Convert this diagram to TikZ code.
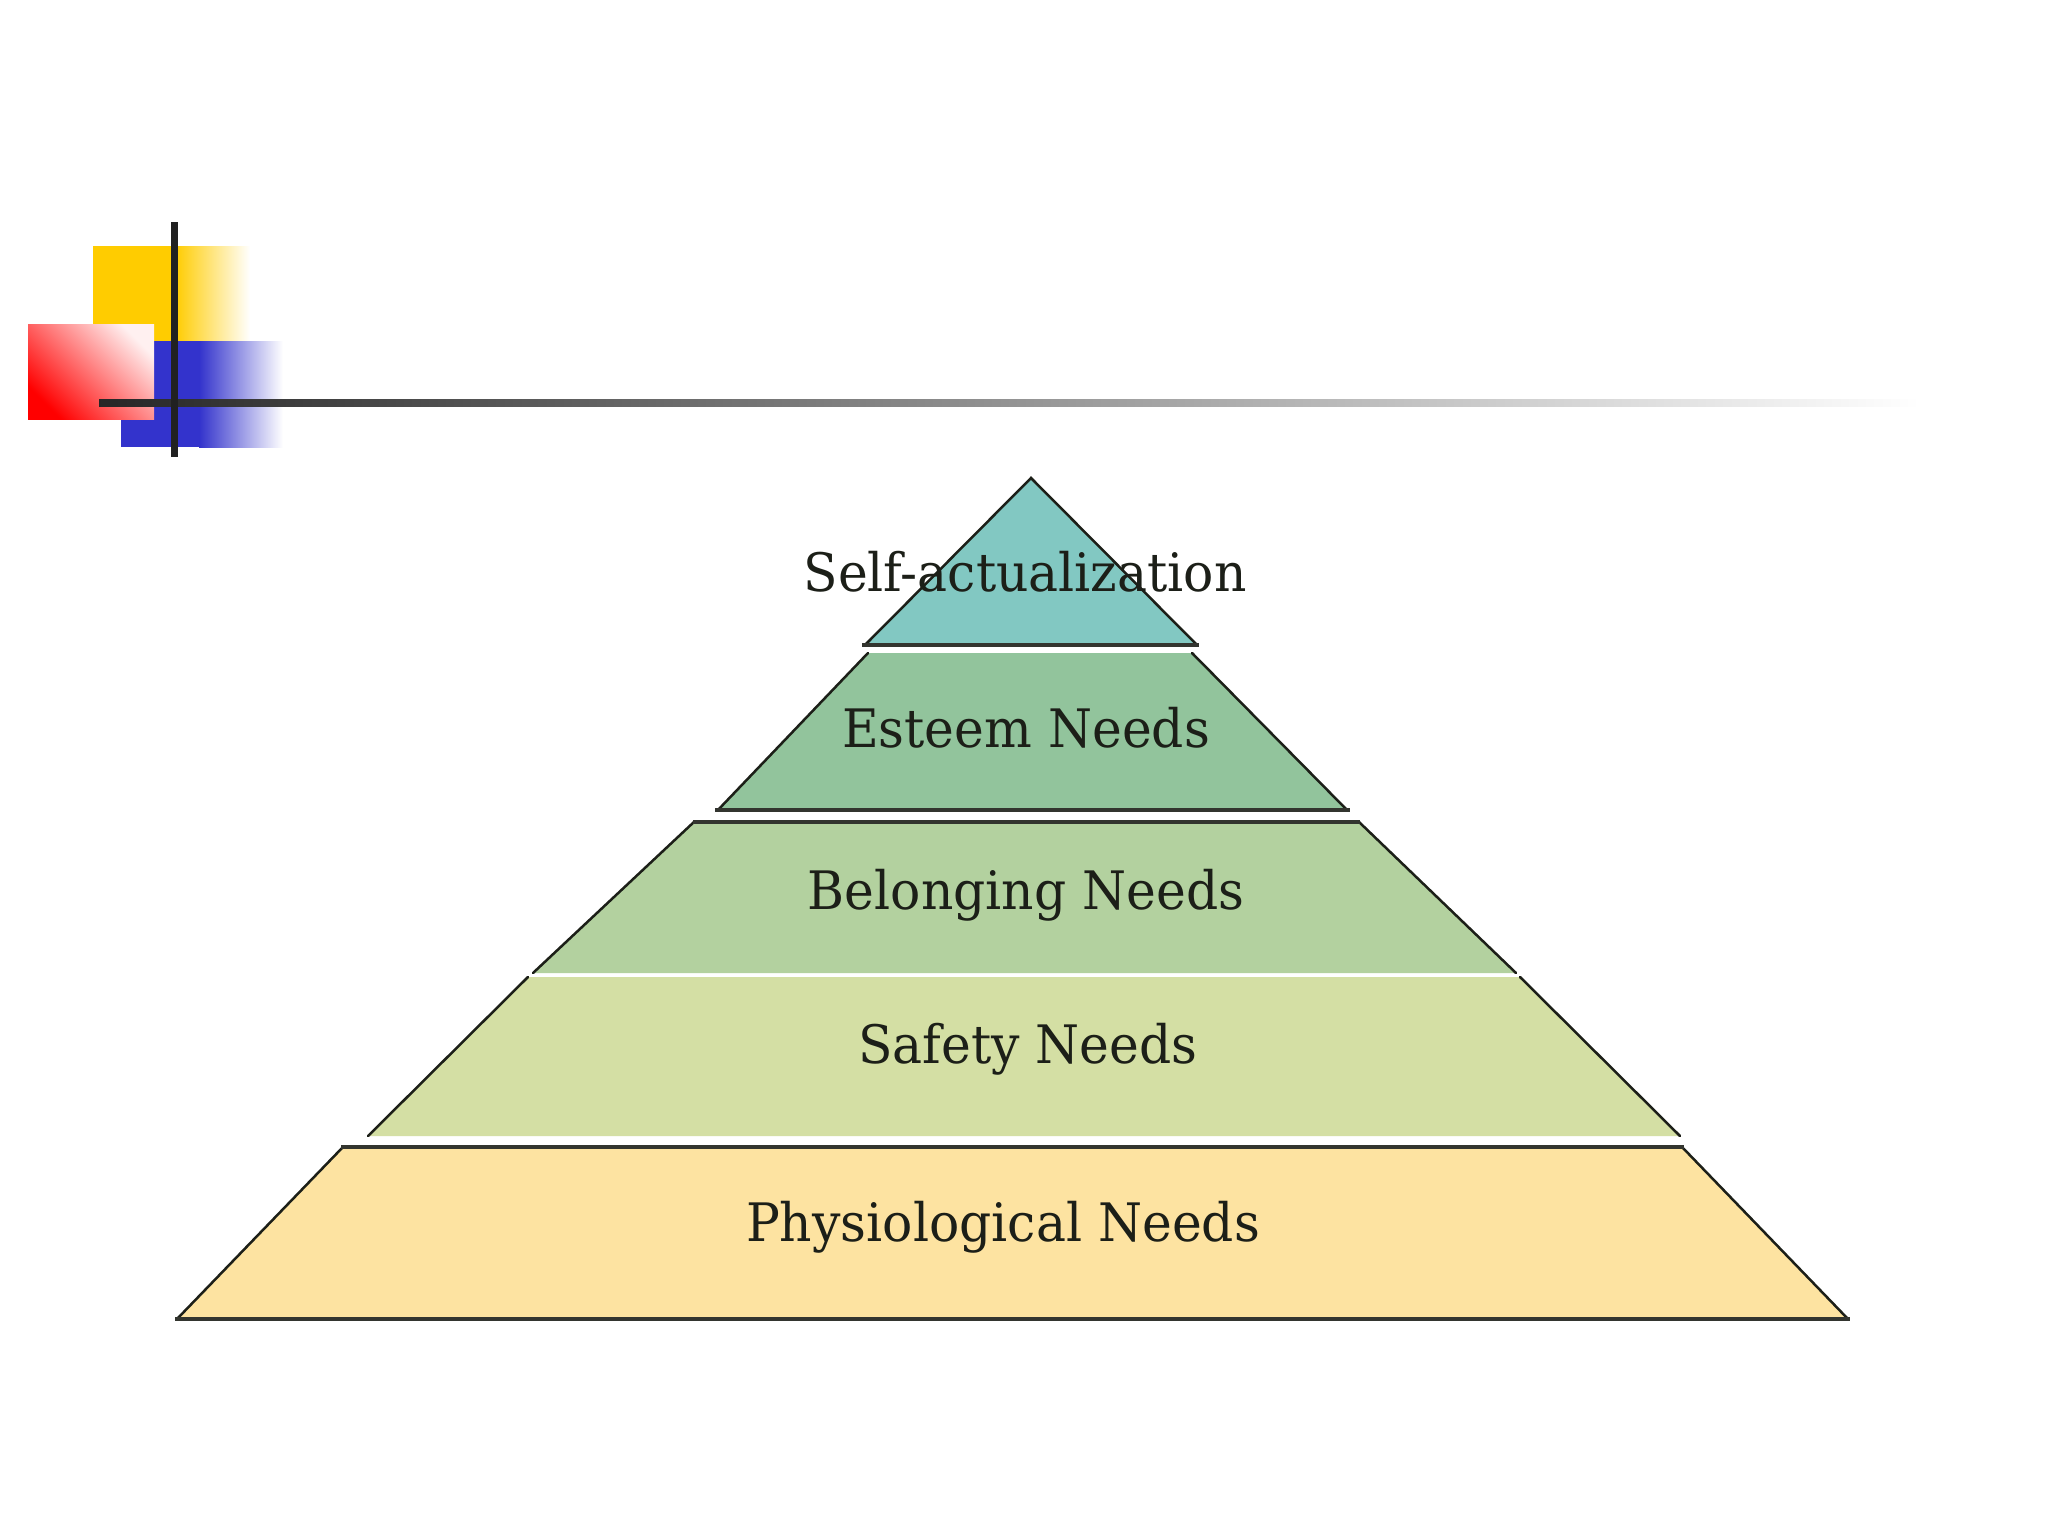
\documentclass[tikz,border=0pt]{standalone}
\usepackage{fontspec}
\setmainfont{DejaVu Serif}[FakeStretch=0.95]
\definecolor{selfc}{HTML}{82C8C2}
\definecolor{esteemc}{HTML}{92C49C}
\definecolor{belongc}{HTML}{B3D19F}
\definecolor{safetyc}{HTML}{D4DFA4}
\definecolor{physc}{HTML}{FDE3A1}
\definecolor{decoyellow}{HTML}{FFCC00}
\definecolor{decoblue}{HTML}{3333CC}
\definecolor{inkc}{HTML}{1C1F18}
\begin{document}
\begin{tikzpicture}[x=1pt,y=-1pt,
  lvltext/.style={anchor=base, text=inkc, inner sep=0pt, font=\fontsize{53}{58}\selectfont},
  sideline/.style={line width=2.5pt, draw=inkc, line cap=round},
  shelfline/.style={line width=4pt, draw=inkc!90},
]
\useasboundingbox (0,0) rectangle (2048,1536);
\fill[white] (0,0) rectangle (2048,1536);

% decoration
\fill[decoyellow] (93,246) rectangle (176,341);
\shade[left color=decoyellow, right color=white] (175,246) rectangle (250,341);
\fill[decoblue] (121,341) rectangle (200,447);
\shade[left color=decoblue, right color=white] (199,341) rectangle (283,447);
\shade[top color=red!6, bottom color=red, shading angle=-45] (28,324) rectangle (154,419);
\shade[left color=black!85, middle color=black!50, right color=white] (99,399.5) rectangle (1920,406.5);
\fill[black!87] (170.5,222) rectangle (177.5,457);

% pyramid levels
\fill[selfc] (1031,478) -- (1197,645) -- (865,645) -- cycle;
\fill[esteemc] (868,653) -- (1192,653) -- (1348,811) -- (717,811) -- cycle;
\fill[belongc] (695,821) -- (1358,821) -- (1516,973) -- (533,973) -- cycle;
\fill[safetyc] (528,977) -- (1520,977) -- (1680,1136) -- (368,1136) -- cycle;
\fill[physc] (343,1147) -- (1682,1147) -- (1848,1319) -- (177,1319) -- cycle;

% side edges
\draw[sideline] (865,645) -- (1031,478) -- (1197,645);
\draw[sideline] (717,811) -- (868,653);
\draw[sideline] (1192,653) -- (1348,811);
\draw[sideline] (533,973) -- (695,821);
\draw[sideline] (1358,821) -- (1516,973);
\draw[sideline] (368,1136) -- (528,977);
\draw[sideline] (1520,977) -- (1680,1136);
\draw[sideline] (177,1319) -- (343,1147);
\draw[sideline] (1682,1147) -- (1848,1319);

% shelf lines
\draw[shelfline] (862,645) -- (1199,645);
\draw[shelfline] (715,810) -- (1350,810);
\draw[shelfline] (693,822) -- (1360,822);
\draw[shelfline] (341,1147) -- (1684,1147);
\draw[shelfline] (175,1319) -- (1850,1319);

% labels
\node[lvltext] (selfact) at (1025,591) {Self-actualization};
\node[lvltext] (esteem) at (1026,747) {Esteem Needs};
\node[lvltext] (belong) at (1026,909) {Belonging Needs};
\node[lvltext] (safety) at (1028,1063) {Safety Needs};
\node[lvltext] (physio) at (1003,1241) {Physiological Needs};
\end{tikzpicture}
\end{document}
